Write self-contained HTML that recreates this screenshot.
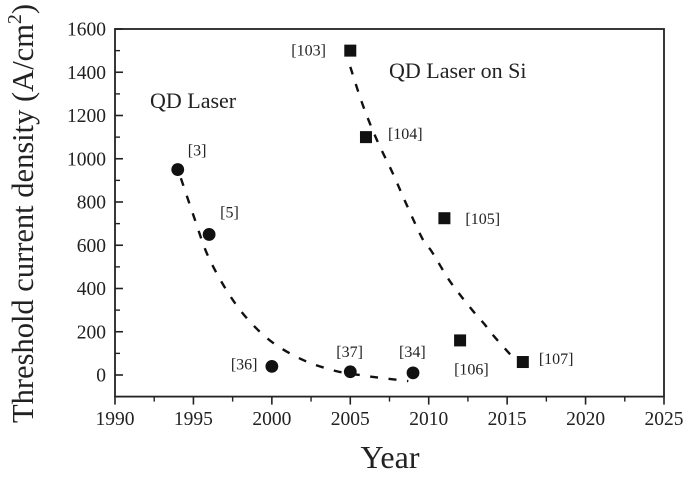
<!DOCTYPE html>
<html lang="en">
<head>
<meta charset="utf-8">
<title>Threshold current density vs year</title>
<style>
html,body{margin:0;padding:0;background:#fff;}
svg{display:block;font-family:"Liberation Serif",serif;fill:#222;filter:blur(0.35px);}
</style>
</head>
<body>
<svg id="chart" xmlns="http://www.w3.org/2000/svg" width="685" height="478" viewBox="0 0 685 478">
  <g id="plot"></g>
  <text x="390" y="468" font-size="32" text-anchor="middle">Year</text>
  <text transform="translate(33,423) rotate(-90)" font-size="30.5">Threshold current density (A/cm<tspan dy="-12" font-size="20">2</tspan><tspan dy="12">)</tspan></text>
  <text x="150" y="108" font-size="22">QD Laser</text>
  <text x="389" y="78" font-size="22">QD Laser on Si</text>
</svg>
<script>
var xTicks = [1990, 1995, 2000, 2005, 2010, 2015, 2020, 2025];
var xMinorTicks = [1992.5, 1997.5, 2002.5, 2007.5, 2012.5, 2017.5, 2022.5];
var yTicks = [0, 200, 400, 600, 800, 1000, 1200, 1400, 1600];
var yMinorTicks = [100, 300, 500, 700, 900, 1100, 1300, 1500];

var qdYears = [1994, 1996, 2000, 2005, 2009];
var qdValues = [950, 650, 40, 15, 10];
var qdRefs = ['[3]', '[5]', '[36]', '[37]', '[34]'];
var qdRefOffsetsX = [10, 11, -41, -14, -14];
var qdRefOffsetsY = [-14, -17, 3, -15, -16];

var siYears = [2005, 2006, 2011, 2012, 2016];
var siValues = [1500, 1100, 725, 160, 60];
var siRefs = ['[103]', '[104]', '[105]', '[106]', '[107]'];
var siRefOffsetsX = [-59, 22, 21, -6, 16];
var siRefOffsetsY = [5, 2, 6, 34, 2];

var qdFitYears = [1994.2, 1995.1, 1995.9, 1997.1, 1998.4, 2000, 2002, 2004.1, 2005.6, 2007, 2008.7];
var qdFitValues = [910, 717, 555, 393, 263, 153, 69, 18, 0, -14, -28];
var siFitYears = [2005, 2005.8, 2006.7, 2007.7, 2008.6, 2009.6, 2010.2, 2011.2, 2011.9, 2012.8, 2013.6, 2014.2, 2015.2];
var siFitValues = [1425, 1248, 1086, 934, 786, 630, 570, 450, 380, 298, 231, 176, 95];

var SVGNS = 'http://www.w3.org/2000/svg';
var plot = document.getElementById('plot');
var left = 115, right = 664, top_ = 29, bottom = 396.6;
var color = '#222';

function xScale(v) { return left + (v - 1990) * (right - left) / 35; }
function yScale(v) { return 375 - v * 0.21625; }

function make(tag, attrs) {
  var el = document.createElementNS(SVGNS, tag);
  for (var k in attrs) el.setAttribute(k, attrs[k]);
  plot.appendChild(el);
  return el;
}

function smoothPath(xs, ys) {
  var pts = xs.map(function (x, i) { return [xScale(x), yScale(ys[i])]; });
  var d = 'M' + pts[0][0] + ' ' + pts[0][1];
  for (var i = 0; i < pts.length - 1; i++) {
    var p0 = pts[Math.max(i - 1, 0)], p1 = pts[i], p2 = pts[i + 1], p3 = pts[Math.min(i + 2, pts.length - 1)];
    d += ' C' + (p1[0] + (p2[0] - p0[0]) / 6) + ' ' + (p1[1] + (p2[1] - p0[1]) / 6) + ' ' +
      (p2[0] - (p3[0] - p1[0]) / 6) + ' ' + (p2[1] - (p3[1] - p1[1]) / 6) + ' ' + p2[0] + ' ' + p2[1];
  }
  return d;
}

var frame = make('rect', {x: left, y: top_, width: right - left, height: bottom - top_, fill: 'none', stroke: color, 'stroke-width': 1.8});



xTicks.forEach(function (v) {
  var t = make('line', {x1: xScale(v), x2: xScale(v), y1: bottom, y2: bottom + 8, stroke: color, 'stroke-width': 1.6});
  
  
  var l = make('text', {x: xScale(v), y: 425, 'font-size': 19.5, 'text-anchor': 'middle'});
  l.textContent = v;
  
  
});
xMinorTicks.forEach(function (v) {
  var t = make('line', {x1: xScale(v), x2: xScale(v), y1: bottom, y2: bottom + 5, stroke: color, 'stroke-width': 1.4});
  
  
});
yTicks.forEach(function (v) {
  var t = make('line', {x1: left, x2: left + 8, y1: yScale(v), y2: yScale(v), stroke: color, 'stroke-width': 1.6});
  
  
  var l = make('text', {x: 106, y: yScale(v) + 6.5, 'font-size': 19.5, 'text-anchor': 'end'});
  l.textContent = v;
  
  
});
yMinorTicks.forEach(function (v) {
  var t = make('line', {x1: left, x2: left + 5, y1: yScale(v), y2: yScale(v), stroke: color, 'stroke-width': 1.4});
  
  
});

var qdFit = make('path', {d: smoothPath(qdFitYears, qdFitValues), fill: 'none', stroke: '#111', 'stroke-width': 2.4, 'stroke-dasharray': '8 10.5'});


var siFit = make('path', {d: smoothPath(siFitYears, siFitValues), fill: 'none', stroke: '#111', 'stroke-width': 2.4, 'stroke-dasharray': '8 10'});



qdYears.forEach(function (yr, i) {
  var c = make('circle', {cx: xScale(yr), cy: yScale(qdValues[i]), r: 6.4, fill: '#111'});
  
  
  var l = make('text', {x: xScale(yr) + qdRefOffsetsX[i], y: yScale(qdValues[i]) + qdRefOffsetsY[i], 'font-size': 16});
  l.textContent = qdRefs[i];
  
  
});
siYears.forEach(function (yr, i) {
  var s = make('rect', {x: xScale(yr) - 6, y: yScale(siValues[i]) - 6, width: 12, height: 12, fill: '#111'});
  
  
  var l = make('text', {x: xScale(yr) + siRefOffsetsX[i], y: yScale(siValues[i]) + siRefOffsetsY[i], 'font-size': 16});
  l.textContent = siRefs[i];
  
  
});
</script>
</body>
</html>
